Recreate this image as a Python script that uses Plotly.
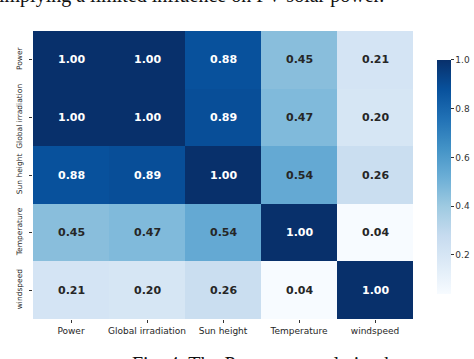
import plotly.graph_objects as go

labels = ["Power", "Global irradiation", "Sun height", "Temperature", "windspeed"]
corr = [
    [1.00, 1.00, 0.88, 0.45, 0.21],
    [1.00, 1.00, 0.89, 0.47, 0.20],
    [0.88, 0.89, 1.00, 0.54, 0.26],
    [0.45, 0.47, 0.54, 1.00, 0.04],
    [0.21, 0.20, 0.26, 0.04, 1.00],
]
cbar_ticks = [0.2, 0.4, 0.6, 0.8, 1.0]
top_text = "implying a limited influence on PV solar power."
caption = "Fig. 4. The Pearson correlation heatmap"

blues = ['rgb(247,251,255)', 'rgb(222,235,247)', 'rgb(198,219,239)',
         'rgb(158,202,225)', 'rgb(107,174,214)', 'rgb(66,146,198)',
         'rgb(33,113,181)', 'rgb(8,81,156)', 'rgb(8,48,107)']
cscale = [[i / (len(blues) - 1), c] for i, c in enumerate(blues)]

W, H = 474, 359
L, R, T, B = 32.5, 61, 30.5, 39.5
pw = W - L - R
ph = H - T - B

zmin = min(min(r) for r in corr)
zmax = max(max(r) for r in corr)

fig = go.Figure(go.Heatmap(
    z=corr, x=labels, y=labels, colorscale=cscale,
    zmin=zmin, zmax=zmax,
    colorbar=dict(
        x=(436.7 - L) / pw, xanchor="left", thickness=14,
        y=(H - B - 177) / ph, yanchor="middle",
        lenmode="pixels", len=234, ypad=0, xpad=0,
        outlinewidth=0, tickvals=cbar_ticks, tickformat=".1f",
        ticks="outside", ticklen=3, tickcolor="#333",
        tickfont=dict(family="DejaVu Sans", size=9, color="#333"),
    ),
    hoverinfo="skip",
))

for i, row in enumerate(corr):
    for j, v in enumerate(row):
        frac = (v - zmin) / (zmax - zmin)
        fig.add_annotation(
            x=labels[j], y=labels[i], text=f"<b>{v:.2f}</b>", showarrow=False,
            font=dict(family="DejaVu Sans", size=11,
                      color="white" if frac > 0.6 else "#262626"),
        )

fig.add_annotation(xref="paper", yref="paper", x=(-4 - L) / pw, xanchor="left",
                   y=(H - B - (-4.8)) / ph, yanchor="middle", text=top_text,
                   showarrow=False,
                   font=dict(family="Liberation Serif", size=20, color="#111"))
fig.add_annotation(xref="paper", yref="paper", x=(130 - L) / pw, xanchor="left",
                   y=(H - B - 365) / ph, yanchor="middle", text=caption,
                   showarrow=False,
                   font=dict(family="Liberation Serif", size=20, color="#111"))

fig.update_xaxes(showgrid=False, zeroline=False, ticks="outside", ticklen=3,
                 tickcolor="#333", tickangle=0, automargin=False,
                 tickfont=dict(family="DejaVu Sans", size=9, color="#262626"))
fig.update_yaxes(showgrid=False, zeroline=False, ticks="outside", ticklen=3,
                 tickcolor="#333", tickangle=-90, autorange="reversed",
                 automargin=False, ticklabelstandoff=4,
                 tickfont=dict(family="DejaVu Sans", size=7.5, color="#262626"))

fig.update_layout(width=W, height=H, margin=dict(l=L, r=R, t=T, b=B, autoexpand=False),
                  paper_bgcolor="white", plot_bgcolor="white")
fig.write_html("out.html", config={"displayModeBar": False},
               post_script="document.body.style.margin='0';document.body.style.overflow='hidden';")
